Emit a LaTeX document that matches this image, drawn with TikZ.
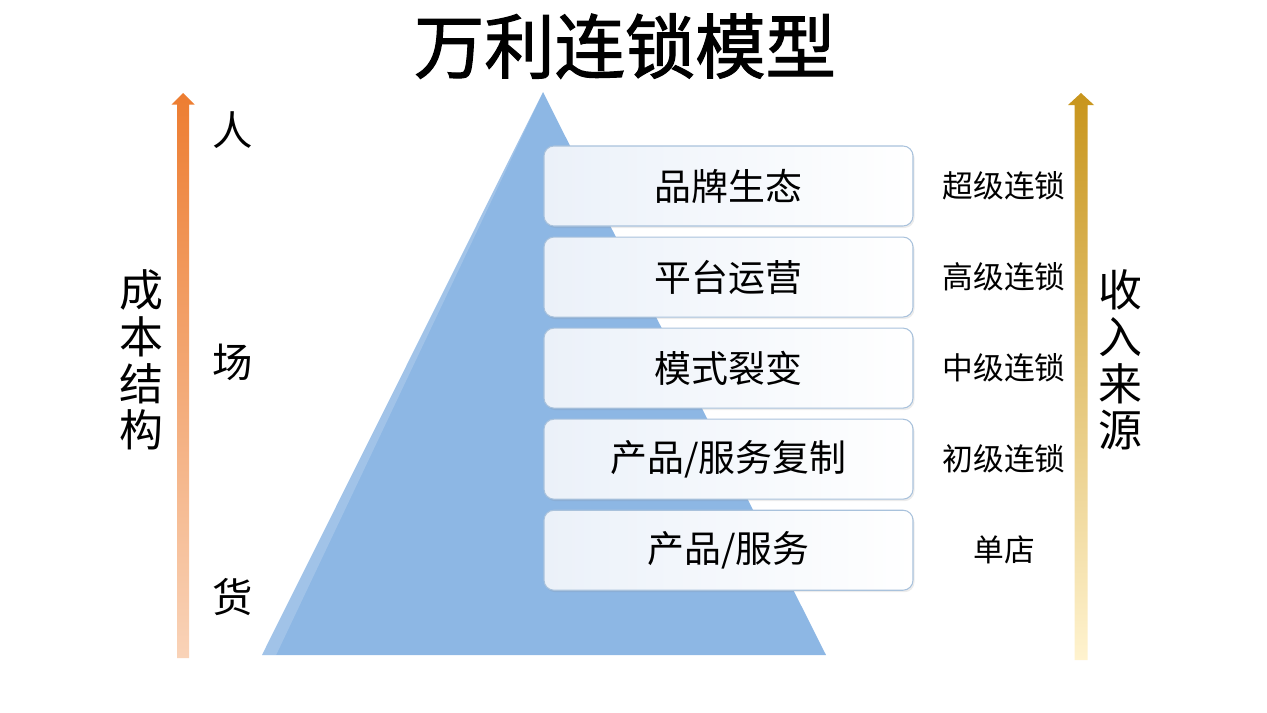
\documentclass[tikz,border=0pt]{standalone}
\usepackage{fontspec}
\setmainfont{Noto Sans CJK SC}
\newfontfamily\titlefont{Noto Sans CJK SC}[FakeBold=1.6]
\usepackage{xcolor}
\definecolor{pyramid}{HTML}{8DB7E4}
\definecolor{boxedge}{HTML}{A9C2DC}
\definecolor{boxtint}{HTML}{EBF1F9}
\definecolor{costtop}{HTML}{ED7D31}
\definecolor{costbot}{HTML}{F9D3B8}
\definecolor{incometop}{HTML}{C8951C}
\definecolor{incomebot}{HTML}{FFF3CF}
\usepackage{tikz}
\usetikzlibrary{
  positioning,
  calc,
  shadows
}

\begin{document}
\begin{tikzpicture}[
  lvlbox/.style={rectangle, rounded corners=0.2cm, draw=boxedge, line width=0.6pt, left color=boxtint, right color=white, minimum width=7.38cm, minimum height=1.6cm, font=\fontsize{21}{24}\selectfont, drop shadow={opacity=0.15, shadow xshift=0.03cm, shadow yshift=-0.04cm}},
  lvltag/.style={font=\fontsize{17.5}{20}\selectfont},
  side/.style={font=\fontsize{23}{26}\selectfont},
  axislabel/.style={font=\fontsize{25}{26.6}\selectfont, align=center},
]
\useasboundingbox (0,0) rectangle (25.34,-14.26);

% title
\node[font=\titlefont\fontsize{40}{44}\selectfont] (title) at (12.5,-0.92) {万利连锁模型};

% pyramid
\coordinate (apex) at (10.86,-1.84);
\coordinate (baseL) at (5.24,-13.1);
\coordinate (baseR) at (16.52,-13.1);
\fill[pyramid] (apex) -- (baseR) -- (baseL) -- cycle;
\fill[white, opacity=0.18] (apex) -- (baseL) -- ($(baseL)!0.025!(baseR)$) -- cycle;

% levels
\node[lvlbox] (b1) at (14.57,-3.72) {品牌生态};
\node[lvlbox, below=0.2cm of b1] (b2) {平台运营};
\node[lvlbox, below=0.2cm of b2] (b3) {模式裂变};
\node[lvlbox, below=0.2cm of b3] (b4) {产品/服务复制};
\node[lvlbox, below=0.2cm of b4] (b5) {产品/服务};

\coordinate (tagcol) at (20.08,0);
\node[lvltag] (t1) at (b1 -| tagcol) {超级连锁};
\node[lvltag] (t2) at (b2 -| tagcol) {高级连锁};
\node[lvltag] (t3) at (b3 -| tagcol) {中级连锁};
\node[lvltag] (t4) at (b4 -| tagcol) {初级连锁};
\node[lvltag] (t5) at (b5 -| tagcol) {单店};

% left side
\node[side] (ren) at (4.66,-2.6) {人};
\node[side] (chang) at (4.66,-7.24) {场};
\node[side] (huo) at (4.66,-11.94) {货};

\coordinate (costlo) at (3.66,-13.16);
\coordinate (costhi) at (3.66,-1.86);
\shade[top color=costtop, bottom color=costbot]
  ($(costlo)+(-0.12,0)$) -- ($(costhi)+(-0.12,-0.23)$) -- ($(costhi)+(-0.23,-0.23)$)
  -- (costhi) -- ($(costhi)+(0.23,-0.23)$) -- ($(costhi)+(0.12,-0.23)$)
  -- ($(costlo)+(0.12,0)$) -- cycle;
\node[axislabel] (cost) at (2.82,-7.2) {成\\本\\结\\构};

% right side
\coordinate (inclo) at (21.62,-13.2);
\coordinate (inchi) at (21.62,-1.86);
\shade[top color=incometop, bottom color=incomebot]
  ($(inclo)+(-0.13,0)$) -- ($(inchi)+(-0.13,-0.24)$) -- ($(inchi)+(-0.26,-0.24)$)
  -- (inchi) -- ($(inchi)+(0.26,-0.24)$) -- ($(inchi)+(0.13,-0.24)$)
  -- ($(inclo)+(0.13,0)$) -- cycle;
\node[axislabel] (income) at (22.4,-7.2) {收\\入\\来\\源};

\end{tikzpicture}
\end{document}
